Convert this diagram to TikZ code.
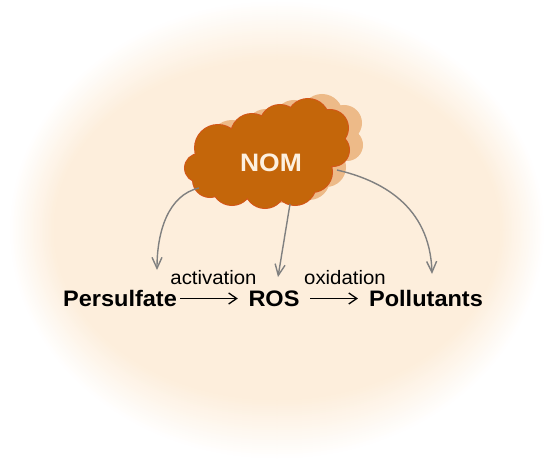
\documentclass[tikz,border=0pt]{standalone}
\usepackage{fontspec}
\setmainfont{Liberation Sans}
\newfontfamily\diagfont[FakeStretch=1.05]{Liberation Sans}
\usepackage{xcolor}
\usepackage{tikz}
\usetikzlibrary{calc, arrows.meta, positioning}

\definecolor{glowpeach}{RGB}{253,238,220}
\definecolor{nombrown}{RGB}{196,102,10}
\definecolor{nomedge}{RGB}{212,86,26}
\definecolor{nomshadow}{RGB}{237,186,136}
\definecolor{nomtextcol}{RGB}{253,240,224}
\definecolor{linkgray}{RGB}{128,128,128}

% bumps of the NOM cloud: x/y/radius
\def\nomblobs{199/168/14, 218/148/23, 252/135/21, 280/125/20, 308/120/21, 330/128/18, 333/150/16, 312/172/20, 295/184/21, 265/188/20, 232/185/20, 210/180/17}

\begin{document}
\begin{tikzpicture}[x=1bp, y=-1bp, >={Straight Barb[length=8bp,width=11bp]}, font=\diagfont]
	\tikzstyle{term} = [font=\diagfont\fontsize{22.5}{26}\selectfont\bfseries, anchor=base, inner sep=2bp, text height=16bp, text depth=0pt]
	\tikzstyle{invis} = [draw=none, anchor=base, inner sep=1bp, font=\diagfont\fontsize{19.5}{23}\selectfont]
	\tikzstyle{nomlabel} = [anchor=base, text=nomtextcol, font=\diagfont\fontsize{25.3}{29}\selectfont\bfseries]
	\tikzstyle{link} = [draw=linkgray, line width=1.4bp, -{Straight Barb[length=11bp,width=10bp]}]
	
	% background glow
	\useasboundingbox (0,0) rectangle (550,460);
	\fill[white] (0,0) rectangle (550,460);
	\foreach \i in {0,...,30} {
		\pgfmathsetmacro\gmix{100*\i/30}
		\fill[glowpeach!\gmix!white] (277,230) ellipse [x radius={268-\i*1.5}, y radius={230-\i*2}];
	}
	
	% NOM cloud: light copy behind, then outline, then fill over the inner arcs
	\begin{scope}[shift={(14,-5)}]
		\fill[nomshadow] foreach \cx/\cy/\r in \nomblobs {(\cx,\cy) circle (\r)}
			(268,158) ellipse [x radius=60, y radius=32] (300,140) ellipse [x radius=35, y radius=25];
	\end{scope}
	\filldraw[nombrown, draw=nomedge, line width=2bp] foreach \cx/\cy/\r in \nomblobs {(\cx,\cy) circle (\r)};
	\fill[nombrown] foreach \cx/\cy/\r in \nomblobs {(\cx,\cy) circle (\r)}
		(268,158) ellipse [x radius=60, y radius=32] (300,140) ellipse [x radius=35, y radius=25];
	
	\node[nomlabel]		at (271, 172)		(nom)	{NOM};
	\node[term]			at (120, 306.5)		(ps)	{Persulfate};
	\node[term]			at (274, 306.5)		(ros)	{ROS};
	\node[term]			at (426, 306.5)		(pol)	{Pollutants};
	\node[invis]		at (213.5, 284)		(act)	{activation};
	\node[invis]		at (345, 284)		(ox)	{oxidation};
	
	\coordinate (nomL) at (199, 188);
	\coordinate (nomB) at (290, 204);
	\coordinate (nomR) at (337, 170);
	\coordinate (psIn) at (157, 270);
	\coordinate (rosIn) at (278, 277);
	\coordinate (polIn) at (432, 274);
	
	\path[->, line width=1.3bp]
	(ps)	edge[shorten <=1bp, shorten >=8.5bp]	node	{}	(ros)
	(ros)	edge[shorten <=8.5bp, shorten >=9bp]	node	{}	(pol);
	
	\draw[link] (nomL) .. controls (168, 195) and (157, 232) .. (psIn);
	\draw[link] (nomB) -- (rosIn);
	\draw[link] (nomR) .. controls (380, 180) and (430, 205) .. (polIn);
\end{tikzpicture}
\end{document}
